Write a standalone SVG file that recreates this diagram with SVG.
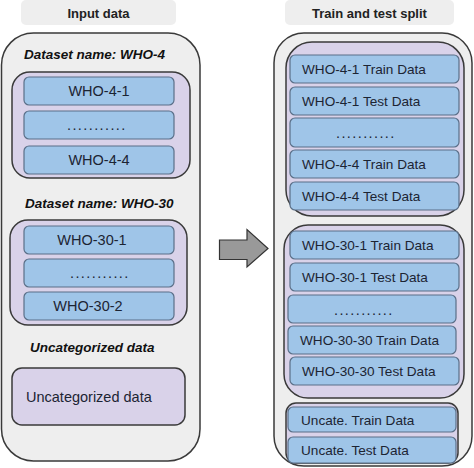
<svg xmlns="http://www.w3.org/2000/svg" width="474" height="468" viewBox="0 0 474 468">
<style>
.hdr{fill:#eeeeee;stroke:none}
.panel{fill:#eeeeee;stroke:#3a3a3a;stroke-width:1.5}
.grp{fill:#d9d2e9;stroke:#3a3a3a;stroke-width:1.5}
.box{fill:#9fc5e8;stroke:#5a6f88;stroke-width:1.2}
.ht{font-family:"Liberation Sans",Arial,sans-serif;font-weight:bold;font-size:13px;fill:#222;text-anchor:middle}
.st{font-family:"Liberation Sans",Arial,sans-serif;font-weight:bold;font-style:italic;font-size:13.5px;fill:#111}
.bt{font-family:"Liberation Sans",Arial,sans-serif;font-size:14.5px;fill:#1c2433;text-anchor:middle}
.dt{font-family:"Liberation Sans",Arial,sans-serif;font-size:14.5px;fill:#1c2433;letter-spacing:1.4px}
.rt{font-family:"Liberation Sans",Arial,sans-serif;font-size:13.6px;fill:#1c2433}
</style>
<rect width="474" height="468" fill="#ffffff"/>
<g id="input-header"><rect class="hdr" x="21" y="0" width="155" height="25" rx="5"/><text class="ht" x="98.5" y="17.5">Input data</text></g>
<g id="split-header"><rect class="hdr" x="285" y="0" width="169" height="25" rx="5"/><text class="ht" x="369.5" y="17.5">Train and test split</text></g>
<g id="input-panel">
<rect class="panel" x="1.5" y="33" width="198.5" height="428" rx="32"/>
<text class="st" x="24" y="59">Dataset name: WHO-4</text>
<g id="who4-group"><rect class="grp" x="12" y="72" width="178" height="106" rx="18"/>
<g id="who4-1"><rect class="box" x="24" y="77" width="150" height="28" rx="5"/><text class="bt" x="99" y="96">WHO-4-1</text></g>
<g id="who4-dots"><rect class="box" x="24" y="111" width="150" height="28" rx="5"/><text class="dt" x="67" y="130">...........</text></g>
<g id="who4-4"><rect class="box" x="24" y="146" width="150" height="28" rx="5"/><text class="bt" x="99" y="165">WHO-4-4</text></g>
</g>
<text class="st" x="25" y="208">Dataset name: WHO-30</text>
<g id="who30-group"><rect class="grp" x="10" y="220" width="177" height="105" rx="18"/>
<g id="who30-1"><rect class="box" x="24" y="226" width="150" height="28" rx="5"/><text class="bt" x="92" y="245">WHO-30-1</text></g>
<g id="who30-dots"><rect class="box" x="24" y="259" width="150" height="28" rx="5"/><text class="dt" x="70" y="278">...........</text></g>
<g id="who30-2"><rect class="box" x="24" y="292" width="150" height="28" rx="5"/><text class="bt" x="88" y="311">WHO-30-2</text></g>
</g>
<text class="st" x="30" y="352">Uncategorized data</text>
<g id="uncat"><rect class="grp" x="12" y="368" width="173" height="57" rx="10"/><text class="rt" style="font-size:14.5px" x="26" y="402">Uncategorized data</text></g>
</g>
<g id="connectors"><path d="M219.5,240 L247,240 L247,229.5 L268,248.5 L247,267 L247,259.5 L219.5,259.5 Z" fill="#999999" stroke="#333333" stroke-width="1.2"/></g>
<g id="split-panel">
<rect class="panel" x="274" y="33" width="198" height="433" rx="30"/>
<g id="split4-group"><rect class="grp" x="286" y="42" width="178" height="174" rx="26"/>
<g id="s41tr"><rect class="box" x="290" y="55" width="169" height="28" rx="5"/><text class="rt" x="302" y="74">WHO-4-1 Train Data</text></g>
<g id="s41te"><rect class="box" x="290" y="87" width="169" height="28" rx="5"/><text class="rt" x="302" y="106">WHO-4-1 Test Data</text></g>
<g id="s4dots"><rect class="box" x="290" y="118" width="169" height="29" rx="5"/><text class="dt" x="336" y="138">...........</text></g>
<g id="s44tr"><rect class="box" x="290" y="150" width="169" height="28" rx="5"/><text class="rt" x="302" y="169">WHO-4-4 Train Data</text></g>
<g id="s44te"><rect class="box" x="290" y="182" width="169" height="28" rx="5"/><text class="rt" x="302" y="201">WHO-4-4 Test Data</text></g>
</g>
<g id="split30-group"><rect class="grp" x="284" y="225" width="180" height="173" rx="24"/>
<g id="s301tr"><rect class="box" x="290" y="231" width="169" height="28" rx="5"/><text class="rt" x="302" y="250">WHO-30-1 Train Data</text></g>
<g id="s301te"><rect class="box" x="290" y="263" width="169" height="28" rx="5"/><text class="rt" x="302" y="282">WHO-30-1 Test Data</text></g>
<g id="s30dots"><rect class="box" x="288" y="295" width="168" height="28" rx="5"/><text class="dt" x="334" y="315">...........</text></g>
<g id="s3030tr"><rect class="box" x="288" y="326" width="168" height="28" rx="5"/><text class="rt" x="300" y="345">WHO-30-30 Train Data</text></g>
<g id="s3030te"><rect class="box" x="290" y="357" width="169" height="28" rx="5"/><text class="rt" x="302" y="376">WHO-30-30 Test Data</text></g>
</g>
<g id="uncat-group"><rect class="grp" x="286" y="403" width="172" height="60" rx="10"/>
<g id="utr"><rect class="box" x="288" y="407" width="168" height="25" rx="5"/><text class="rt" x="301" y="425">Uncate. Train Data</text></g>
<g id="ute"><rect class="box" x="288" y="437" width="168" height="26" rx="5"/><text class="rt" x="301" y="455">Uncate. Test Data</text></g>
</g>
</g>
</svg>
